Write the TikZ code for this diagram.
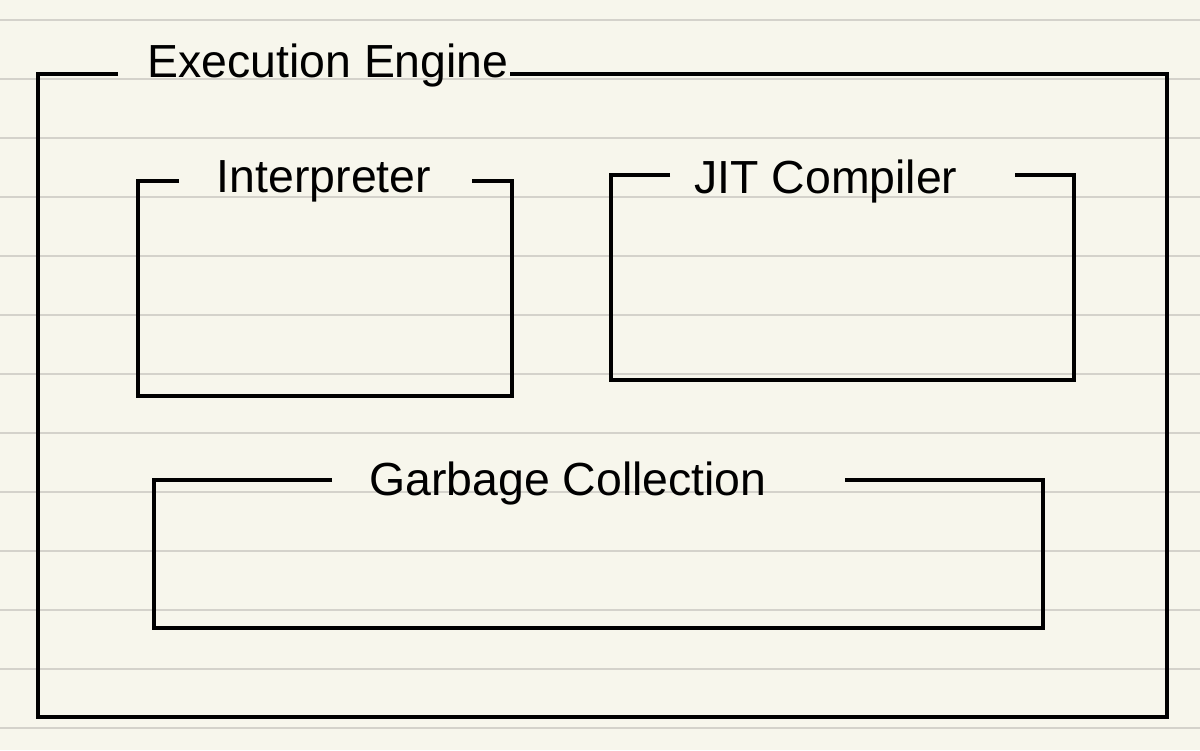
\documentclass[tikz,border=0pt]{standalone}
\usepackage{fontspec}
\setmainfont{Liberation Sans}
\usetikzlibrary{positioning}
\definecolor{paper}{RGB}{247,246,236}
\definecolor{rule}{RGB}{212,210,203}

\begin{document}
\begin{tikzpicture}[
  x=0.025cm, y=-0.025cm,
  frame/.style={draw=black, line width=2.9pt, line cap=butt, line join=miter},
  title/.style={anchor=base, inner sep=0pt, font=\fontsize{33}{36}\selectfont}
]
% paper
\fill[paper] (0,0) rectangle (1200,750);
\useasboundingbox (0,0) rectangle (1200,750);
\foreach \y in {20,79,...,740}
  \draw[rule, line width=1.3pt] (0,\y) -- (1200,\y);

% titles
\node[title] (engine) at (328,77) {Execution Engine};
\node[title] (interp) at (324,192) {Interpreter};
\node[title] (jit) at (826,193) {JIT Compiler};
\node[title] (gc) at (568,495) {Garbage Collection};

% frames
\draw[frame] (118,74) -- (38,74) -- (38,717) -- (1167,717) -- (1167,74) -- (510,74);
\draw[frame] (179,181) -- (138,181) -- (138,396) -- (512,396) -- (512,181) -- (472,181);
\draw[frame] (670,175) -- (611,175) -- (611,380) -- (1074,380) -- (1074,175) -- (1015,175);
\draw[frame] (332,480) -- (154,480) -- (154,628) -- (1043,628) -- (1043,480) -- (845,480);
\end{tikzpicture}
\end{document}
